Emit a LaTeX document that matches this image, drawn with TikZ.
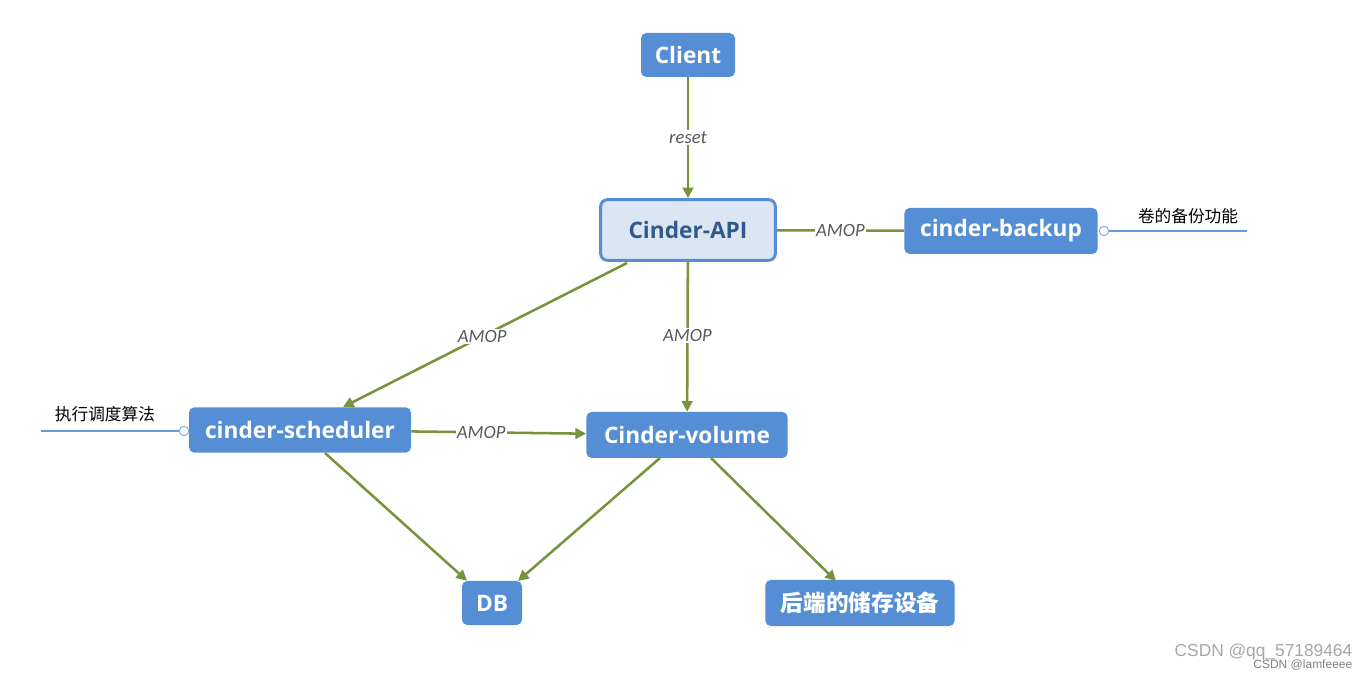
\documentclass[tikz,border=0pt]{standalone}
\usepackage{fontspec}
\setmainfont{Open Sans}
\newfontfamily\cjk{Noto Sans CJK SC}
\newfontfamily\lbl{Carlito}
\usetikzlibrary{arrows.meta}
\definecolor{nodeblue}{HTML}{558ED5}
\definecolor{olive}{HTML}{77933C}
\definecolor{apifill}{HTML}{DCE6F2}
\definecolor{apitext}{HTML}{2F5A8C}
\begin{document}
\begin{tikzpicture}[x=0.75pt,y=-0.75pt,
  box/.style={rectangle,rounded corners=4pt,fill=nodeblue,text=white,font=\fontsize{17}{19}\selectfont\bfseries,inner sep=0pt,minimum height=#1},
  box/.default=33pt,
  conn/.style={draw=olive,line width=1.9pt},
  arr/.style={conn,-{Triangle[length=8pt,width=8pt]}},
  lab/.style={font=\lbl\itshape\fontsize{14}{16}\selectfont,text=black!65,fill=white,inner sep=1pt},
  callout/.style={draw=nodeblue!90,line width=1.5pt},
  note/.style={font=\cjk\fontsize{12.5}{14}\selectfont}]
\useasboundingbox (0,0) rectangle (1372,673);
\node[box,minimum width=70.5pt] (client) at (688,55) {Client};
\node[rectangle,rounded corners=5pt,fill=apifill,draw=nodeblue,line width=2.2pt,text=apitext,font=\fontsize{17}{19}\selectfont\bfseries,minimum width=131pt,minimum height=45.5pt] (api) at (688,230) {Cinder-API};
\node[box,minimum width=145pt,minimum height=34.5pt] (backup) at (1001,231) {cinder-backup};
\node[box,minimum width=166.5pt,minimum height=34pt] (sched) at (300,430) {cinder-scheduler};
\node[box,minimum width=151pt,minimum height=34.5pt] (vol) at (687,435) {Cinder-volume};
\node[box,minimum width=45pt,minimum height=33pt] (db) at (492,603) {DB};
\node[box,minimum width=142pt,minimum height=34.5pt,font=\cjk\fontsize{17}{19}\selectfont\bfseries] (dev) at (860,603) {后端的储存设备};

\draw[arr] (client) -- node[lab]{reset} (api);
\draw[conn] (api) -- node[lab]{AMOP} (backup);
\draw[arr] (627,263) -- node[lab,pos=0.51]{AMOP} (sched.north east -| 343,408);
\draw[arr] (api) -- node[lab,pos=0.49]{AMOP} (vol);
\draw[arr] (sched) -- node[lab,pos=0.4]{AMOP} (vol);
\draw[arr] (325,453) -- (db.north west -| 467,580);
\draw[arr] (660,458) -- (518,581);
\draw[arr] (711,458) -- (836,581);

\coordinate (bc) at (1104,231);
\coordinate (be) at (1247,231);
\draw[callout] (bc) -- (be);
\draw[nodeblue!70,fill=white,line width=0.8pt] (bc) circle (3.5pt);
\node[note] at (1188,216) {卷的备份功能};
\coordinate (sc) at (184,431);
\coordinate (se) at (41,431);
\draw[callout] (se) -- (sc);
\draw[nodeblue!70,fill=white,line width=0.8pt] (sc) circle (3.5pt);
\node[note] at (105,414) {执行调度算法};

\node[font=\fontspec{Liberation Sans}\fontsize{13}{15}\selectfont,text=black!35,anchor=east] at (1357,652) {CSDN @qq\_57189464};
\node[font=\fontspec{Liberation Sans}\fontsize{9}{11}\selectfont,text=black!50,anchor=east] at (1357,665) {CSDN @lamfeeee};
\end{tikzpicture}
\end{document}
